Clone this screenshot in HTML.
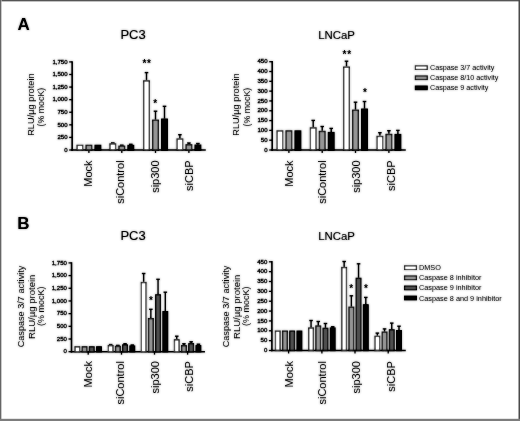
<!DOCTYPE html>
<html><head><meta charset="utf-8"><title>Figure</title>
<style>
html,body{margin:0;padding:0;background:#fff;}
body{width:520px;height:421px;overflow:hidden;}
svg{display:block;}
text{font-family:"Liberation Sans",Arial,Helvetica,sans-serif;}
.tk{stroke:#000;stroke-width:0.3px;}
.tt{stroke:#000;stroke-width:0.12px;}
</style></head><body>
<svg width="520" height="421" viewBox="0 0 520 421">
<defs><filter id="soft" x="0" y="0" width="520" height="421" filterUnits="userSpaceOnUse"><feGaussianBlur stdDeviation="0.8" result="b"/><feComposite in="SourceGraphic" in2="b" operator="arithmetic" k1="0" k2="0.8" k3="0.45" k4="0"/></filter></defs>
<rect x="0" y="0" width="520" height="421" fill="#fff"/>
<g filter="url(#soft)">
<text x="17.40" y="30.00" font-size="17" text-anchor="start" font-weight="bold" fill="#000">A</text>
<text x="133.10" y="38.80" font-size="13" text-anchor="middle" font-weight="normal" fill="#000" class="tt">PC3</text>
<text x="336.50" y="38.80" font-size="11.4" text-anchor="middle" font-weight="normal" fill="#000" class="tt">LNCaP</text>
<rect x="77.12" y="145.38" width="5.55" height="4.63" fill="#fff" stroke="#000" stroke-width="1.35"/>
<rect x="86.12" y="145.38" width="5.55" height="4.63" fill="#8a8a8a" stroke="#000" stroke-width="1.35"/>
<rect x="95.12" y="145.38" width="5.55" height="4.63" fill="#000" stroke="#000" stroke-width="1.35"/>
<line x1="112.80" y1="143.30" x2="112.80" y2="142.90" stroke="#000" stroke-width="1.4"/>
<line x1="111.00" y1="142.90" x2="114.60" y2="142.90" stroke="#000" stroke-width="1.4"/>
<rect x="110.02" y="143.98" width="5.55" height="6.02" fill="#fff" stroke="#000" stroke-width="1.35"/>
<line x1="121.80" y1="145.60" x2="121.80" y2="145.20" stroke="#000" stroke-width="1.4"/>
<line x1="120.00" y1="145.20" x2="123.60" y2="145.20" stroke="#000" stroke-width="1.4"/>
<rect x="119.02" y="146.28" width="5.55" height="3.73" fill="#8a8a8a" stroke="#000" stroke-width="1.35"/>
<line x1="130.80" y1="144.80" x2="130.80" y2="144.30" stroke="#000" stroke-width="1.4"/>
<line x1="129.00" y1="144.30" x2="132.60" y2="144.30" stroke="#000" stroke-width="1.4"/>
<rect x="128.03" y="145.48" width="5.55" height="4.52" fill="#000" stroke="#000" stroke-width="1.35"/>
<line x1="146.50" y1="80.30" x2="146.50" y2="72.60" stroke="#000" stroke-width="1.4"/>
<line x1="144.70" y1="72.60" x2="148.30" y2="72.60" stroke="#000" stroke-width="1.4"/>
<rect x="143.73" y="80.97" width="5.55" height="69.03" fill="#fff" stroke="#000" stroke-width="1.35"/>
<line x1="155.50" y1="119.60" x2="155.50" y2="111.20" stroke="#000" stroke-width="1.4"/>
<line x1="153.70" y1="111.20" x2="157.30" y2="111.20" stroke="#000" stroke-width="1.4"/>
<rect x="152.73" y="120.27" width="5.55" height="29.73" fill="#8a8a8a" stroke="#000" stroke-width="1.35"/>
<line x1="164.50" y1="118.50" x2="164.50" y2="106.30" stroke="#000" stroke-width="1.4"/>
<line x1="162.70" y1="106.30" x2="166.30" y2="106.30" stroke="#000" stroke-width="1.4"/>
<rect x="161.73" y="119.17" width="5.55" height="30.82" fill="#000" stroke="#000" stroke-width="1.35"/>
<line x1="179.90" y1="138.40" x2="179.90" y2="134.70" stroke="#000" stroke-width="1.4"/>
<line x1="178.10" y1="134.70" x2="181.70" y2="134.70" stroke="#000" stroke-width="1.4"/>
<rect x="177.13" y="139.08" width="5.55" height="10.92" fill="#fff" stroke="#000" stroke-width="1.35"/>
<line x1="188.90" y1="144.20" x2="188.90" y2="143.00" stroke="#000" stroke-width="1.4"/>
<line x1="187.10" y1="143.00" x2="190.70" y2="143.00" stroke="#000" stroke-width="1.4"/>
<rect x="186.13" y="144.88" width="5.55" height="5.13" fill="#8a8a8a" stroke="#000" stroke-width="1.35"/>
<line x1="197.90" y1="144.50" x2="197.90" y2="143.50" stroke="#000" stroke-width="1.4"/>
<line x1="196.10" y1="143.50" x2="199.70" y2="143.50" stroke="#000" stroke-width="1.4"/>
<rect x="195.13" y="145.18" width="5.55" height="4.83" fill="#000" stroke="#000" stroke-width="1.35"/>
<line x1="72.15" y1="61.20" x2="72.15" y2="150.80" stroke="#000" stroke-width="1.6"/>
<line x1="71.35" y1="150.00" x2="205.80" y2="150.00" stroke="#000" stroke-width="1.6"/>
<line x1="69.15" y1="150.00" x2="72.15" y2="150.00" stroke="#000" stroke-width="1.3"/>
<text x="67.55" y="151.70" font-size="6.05" text-anchor="end" font-weight="normal" fill="#000" class="tk">0</text>
<line x1="69.15" y1="137.41" x2="72.15" y2="137.41" stroke="#000" stroke-width="1.3"/>
<text x="67.55" y="139.11" font-size="6.05" text-anchor="end" font-weight="normal" fill="#000" class="tk">250</text>
<line x1="69.15" y1="124.83" x2="72.15" y2="124.83" stroke="#000" stroke-width="1.3"/>
<text x="67.55" y="126.53" font-size="6.05" text-anchor="end" font-weight="normal" fill="#000" class="tk">500</text>
<line x1="69.15" y1="112.24" x2="72.15" y2="112.24" stroke="#000" stroke-width="1.3"/>
<text x="67.55" y="113.94" font-size="6.05" text-anchor="end" font-weight="normal" fill="#000" class="tk">750</text>
<line x1="69.15" y1="99.66" x2="72.15" y2="99.66" stroke="#000" stroke-width="1.3"/>
<text x="67.55" y="101.36" font-size="6.05" text-anchor="end" font-weight="normal" fill="#000" class="tk">1,000</text>
<line x1="69.15" y1="87.07" x2="72.15" y2="87.07" stroke="#000" stroke-width="1.3"/>
<text x="67.55" y="88.77" font-size="6.05" text-anchor="end" font-weight="normal" fill="#000" class="tk">1,250</text>
<line x1="69.15" y1="74.49" x2="72.15" y2="74.49" stroke="#000" stroke-width="1.3"/>
<text x="67.55" y="76.19" font-size="6.05" text-anchor="end" font-weight="normal" fill="#000" class="tk">1,500</text>
<line x1="69.15" y1="61.90" x2="72.15" y2="61.90" stroke="#000" stroke-width="1.3"/>
<text x="67.55" y="63.60" font-size="6.05" text-anchor="end" font-weight="normal" fill="#000" class="tk">1,750</text>
<line x1="88.90" y1="150.00" x2="88.90" y2="153.00" stroke="#000" stroke-width="1.3"/>
<line x1="121.80" y1="150.00" x2="121.80" y2="153.00" stroke="#000" stroke-width="1.3"/>
<line x1="155.50" y1="150.00" x2="155.50" y2="153.00" stroke="#000" stroke-width="1.3"/>
<line x1="188.90" y1="150.00" x2="188.90" y2="153.00" stroke="#000" stroke-width="1.3"/>
<text x="91.80" y="160.40" font-size="11" text-anchor="end" font-weight="normal" fill="#000" transform="rotate(-90 91.80 160.40)">Mock</text>
<text x="124.40" y="160.40" font-size="11" text-anchor="end" font-weight="normal" fill="#000" transform="rotate(-90 124.40 160.40)">siControl</text>
<text x="159.30" y="160.40" font-size="11" text-anchor="end" font-weight="normal" fill="#000" transform="rotate(-90 159.30 160.40)">sip300</text>
<text x="193.00" y="160.40" font-size="11" text-anchor="end" font-weight="normal" fill="#000" transform="rotate(-90 193.00 160.40)">siCBP</text>
<rect x="277.12" y="130.98" width="5.55" height="19.02" fill="#fff" stroke="#000" stroke-width="1.35"/>
<rect x="286.12" y="130.98" width="5.55" height="19.02" fill="#8a8a8a" stroke="#000" stroke-width="1.35"/>
<rect x="295.12" y="130.98" width="5.55" height="19.02" fill="#000" stroke="#000" stroke-width="1.35"/>
<line x1="313.20" y1="127.30" x2="313.20" y2="120.40" stroke="#000" stroke-width="1.4"/>
<line x1="311.40" y1="120.40" x2="315.00" y2="120.40" stroke="#000" stroke-width="1.4"/>
<rect x="310.43" y="127.97" width="5.55" height="22.03" fill="#fff" stroke="#000" stroke-width="1.35"/>
<line x1="322.20" y1="130.80" x2="322.20" y2="126.50" stroke="#000" stroke-width="1.4"/>
<line x1="320.40" y1="126.50" x2="324.00" y2="126.50" stroke="#000" stroke-width="1.4"/>
<rect x="319.43" y="131.48" width="5.55" height="18.52" fill="#8a8a8a" stroke="#000" stroke-width="1.35"/>
<line x1="331.20" y1="131.90" x2="331.20" y2="128.40" stroke="#000" stroke-width="1.4"/>
<line x1="329.40" y1="128.40" x2="333.00" y2="128.40" stroke="#000" stroke-width="1.4"/>
<rect x="328.43" y="132.58" width="5.55" height="17.42" fill="#000" stroke="#000" stroke-width="1.35"/>
<line x1="346.50" y1="66.50" x2="346.50" y2="61.20" stroke="#000" stroke-width="1.4"/>
<line x1="344.70" y1="61.20" x2="348.30" y2="61.20" stroke="#000" stroke-width="1.4"/>
<rect x="343.73" y="67.17" width="5.55" height="82.83" fill="#fff" stroke="#000" stroke-width="1.35"/>
<line x1="355.50" y1="109.60" x2="355.50" y2="102.20" stroke="#000" stroke-width="1.4"/>
<line x1="353.70" y1="102.20" x2="357.30" y2="102.20" stroke="#000" stroke-width="1.4"/>
<rect x="352.73" y="110.27" width="5.55" height="39.73" fill="#8a8a8a" stroke="#000" stroke-width="1.35"/>
<line x1="364.50" y1="108.50" x2="364.50" y2="101.50" stroke="#000" stroke-width="1.4"/>
<line x1="362.70" y1="101.50" x2="366.30" y2="101.50" stroke="#000" stroke-width="1.4"/>
<rect x="361.73" y="109.17" width="5.55" height="40.83" fill="#000" stroke="#000" stroke-width="1.35"/>
<line x1="379.90" y1="135.80" x2="379.90" y2="132.70" stroke="#000" stroke-width="1.4"/>
<line x1="378.10" y1="132.70" x2="381.70" y2="132.70" stroke="#000" stroke-width="1.4"/>
<rect x="377.12" y="136.48" width="5.55" height="13.52" fill="#fff" stroke="#000" stroke-width="1.35"/>
<line x1="388.90" y1="133.80" x2="388.90" y2="130.70" stroke="#000" stroke-width="1.4"/>
<line x1="387.10" y1="130.70" x2="390.70" y2="130.70" stroke="#000" stroke-width="1.4"/>
<rect x="386.12" y="134.48" width="5.55" height="15.52" fill="#8a8a8a" stroke="#000" stroke-width="1.35"/>
<line x1="397.90" y1="133.90" x2="397.90" y2="130.40" stroke="#000" stroke-width="1.4"/>
<line x1="396.10" y1="130.40" x2="399.70" y2="130.40" stroke="#000" stroke-width="1.4"/>
<rect x="395.12" y="134.58" width="5.55" height="15.42" fill="#000" stroke="#000" stroke-width="1.35"/>
<line x1="272.20" y1="61.00" x2="272.20" y2="150.80" stroke="#000" stroke-width="1.6"/>
<line x1="271.40" y1="150.00" x2="405.80" y2="150.00" stroke="#000" stroke-width="1.6"/>
<line x1="269.20" y1="150.00" x2="272.20" y2="150.00" stroke="#000" stroke-width="1.3"/>
<text x="267.60" y="151.70" font-size="6.05" text-anchor="end" font-weight="normal" fill="#000" class="tk">0</text>
<line x1="269.20" y1="140.19" x2="272.20" y2="140.19" stroke="#000" stroke-width="1.3"/>
<text x="267.60" y="141.89" font-size="6.05" text-anchor="end" font-weight="normal" fill="#000" class="tk">50</text>
<line x1="269.20" y1="130.38" x2="272.20" y2="130.38" stroke="#000" stroke-width="1.3"/>
<text x="267.60" y="132.08" font-size="6.05" text-anchor="end" font-weight="normal" fill="#000" class="tk">100</text>
<line x1="269.20" y1="120.57" x2="272.20" y2="120.57" stroke="#000" stroke-width="1.3"/>
<text x="267.60" y="122.27" font-size="6.05" text-anchor="end" font-weight="normal" fill="#000" class="tk">150</text>
<line x1="269.20" y1="110.76" x2="272.20" y2="110.76" stroke="#000" stroke-width="1.3"/>
<text x="267.60" y="112.46" font-size="6.05" text-anchor="end" font-weight="normal" fill="#000" class="tk">200</text>
<line x1="269.20" y1="100.94" x2="272.20" y2="100.94" stroke="#000" stroke-width="1.3"/>
<text x="267.60" y="102.64" font-size="6.05" text-anchor="end" font-weight="normal" fill="#000" class="tk">250</text>
<line x1="269.20" y1="91.13" x2="272.20" y2="91.13" stroke="#000" stroke-width="1.3"/>
<text x="267.60" y="92.83" font-size="6.05" text-anchor="end" font-weight="normal" fill="#000" class="tk">300</text>
<line x1="269.20" y1="81.32" x2="272.20" y2="81.32" stroke="#000" stroke-width="1.3"/>
<text x="267.60" y="83.02" font-size="6.05" text-anchor="end" font-weight="normal" fill="#000" class="tk">350</text>
<line x1="269.20" y1="71.51" x2="272.20" y2="71.51" stroke="#000" stroke-width="1.3"/>
<text x="267.60" y="73.21" font-size="6.05" text-anchor="end" font-weight="normal" fill="#000" class="tk">400</text>
<line x1="269.20" y1="61.70" x2="272.20" y2="61.70" stroke="#000" stroke-width="1.3"/>
<text x="267.60" y="63.40" font-size="6.05" text-anchor="end" font-weight="normal" fill="#000" class="tk">450</text>
<line x1="288.90" y1="150.00" x2="288.90" y2="153.00" stroke="#000" stroke-width="1.3"/>
<line x1="322.20" y1="150.00" x2="322.20" y2="153.00" stroke="#000" stroke-width="1.3"/>
<line x1="355.50" y1="150.00" x2="355.50" y2="153.00" stroke="#000" stroke-width="1.3"/>
<line x1="388.90" y1="150.00" x2="388.90" y2="153.00" stroke="#000" stroke-width="1.3"/>
<text x="292.80" y="160.40" font-size="11" text-anchor="end" font-weight="normal" fill="#000" transform="rotate(-90 292.80 160.40)">Mock</text>
<text x="326.20" y="160.40" font-size="11" text-anchor="end" font-weight="normal" fill="#000" transform="rotate(-90 326.20 160.40)">siControl</text>
<text x="359.90" y="160.40" font-size="11" text-anchor="end" font-weight="normal" fill="#000" transform="rotate(-90 359.90 160.40)">sip300</text>
<text x="395.20" y="160.40" font-size="11" text-anchor="end" font-weight="normal" fill="#000" transform="rotate(-90 395.20 160.40)">siCBP</text>
<text x="144.35" y="67.15" font-size="10" text-anchor="middle" font-weight="bold" fill="#000">*</text>
<text x="149.05" y="67.15" font-size="10" text-anchor="middle" font-weight="bold" fill="#000">*</text>
<text x="155.20" y="107.15" font-size="10" text-anchor="middle" font-weight="bold" fill="#000">*</text>
<text x="344.45" y="58.35" font-size="10" text-anchor="middle" font-weight="bold" fill="#000">*</text>
<text x="349.15" y="58.35" font-size="10" text-anchor="middle" font-weight="bold" fill="#000">*</text>
<text x="365.00" y="95.95" font-size="10" text-anchor="middle" font-weight="bold" fill="#000">*</text>
<text x="33.70" y="104.60" font-size="9.25" text-anchor="middle" font-weight="normal" fill="#000" transform="rotate(-90 33.70 104.60)">RLU/µg protein</text>
<text x="44.00" y="107.10" font-size="8.8" text-anchor="middle" font-weight="normal" fill="#000" transform="rotate(-90 44.00 107.10)">(% mocK)</text>
<text x="239.50" y="104.60" font-size="9.25" text-anchor="middle" font-weight="normal" fill="#000" transform="rotate(-90 239.50 104.60)">RLU/µg protein</text>
<text x="250.00" y="107.10" font-size="8.8" text-anchor="middle" font-weight="normal" fill="#000" transform="rotate(-90 250.00 107.10)">(% mocK)</text>
<rect x="415.40" y="65.90" width="11.80" height="3.50" fill="#fff" stroke="#000" stroke-width="1.2"/>
<text x="430.00" y="70.20" font-size="7.2" text-anchor="start" font-weight="normal" fill="#000">Caspase 3/7 activity</text>
<rect x="415.40" y="76.00" width="11.80" height="3.50" fill="#8a8a8a" stroke="#000" stroke-width="1.2"/>
<text x="430.00" y="80.30" font-size="7.2" text-anchor="start" font-weight="normal" fill="#000">Caspase 8/10 activity</text>
<rect x="415.40" y="86.10" width="11.80" height="3.50" fill="#000" stroke="#000" stroke-width="1.2"/>
<text x="430.00" y="90.40" font-size="7.2" text-anchor="start" font-weight="normal" fill="#000">Caspase 9 activity</text>
<text x="17.30" y="229.20" font-size="17" text-anchor="start" font-weight="bold" fill="#000">B</text>
<text x="133.10" y="239.50" font-size="13" text-anchor="middle" font-weight="normal" fill="#000" class="tt">PC3</text>
<text x="336.50" y="239.90" font-size="11.4" text-anchor="middle" font-weight="normal" fill="#000" class="tt">LNCaP</text>
<rect x="75.08" y="346.88" width="4.55" height="4.83" fill="#fff" stroke="#000" stroke-width="1.35"/>
<rect x="82.27" y="346.88" width="4.55" height="4.83" fill="#8a8a8a" stroke="#000" stroke-width="1.35"/>
<rect x="89.47" y="346.88" width="4.55" height="4.83" fill="#4a4a4a" stroke="#000" stroke-width="1.35"/>
<rect x="96.72" y="346.88" width="4.55" height="4.83" fill="#000" stroke="#000" stroke-width="1.35"/>
<line x1="110.65" y1="345.00" x2="110.65" y2="344.60" stroke="#000" stroke-width="1.4"/>
<line x1="108.85" y1="344.60" x2="112.45" y2="344.60" stroke="#000" stroke-width="1.4"/>
<rect x="108.38" y="345.68" width="4.55" height="6.02" fill="#fff" stroke="#000" stroke-width="1.35"/>
<line x1="117.85" y1="345.80" x2="117.85" y2="345.40" stroke="#000" stroke-width="1.4"/>
<line x1="116.05" y1="345.40" x2="119.65" y2="345.40" stroke="#000" stroke-width="1.4"/>
<rect x="115.57" y="346.48" width="4.55" height="5.22" fill="#8a8a8a" stroke="#000" stroke-width="1.35"/>
<line x1="125.05" y1="344.30" x2="125.05" y2="343.80" stroke="#000" stroke-width="1.4"/>
<line x1="123.25" y1="343.80" x2="126.85" y2="343.80" stroke="#000" stroke-width="1.4"/>
<rect x="122.77" y="344.98" width="4.55" height="6.72" fill="#4a4a4a" stroke="#000" stroke-width="1.35"/>
<line x1="132.30" y1="345.40" x2="132.30" y2="345.00" stroke="#000" stroke-width="1.4"/>
<line x1="130.50" y1="345.00" x2="134.10" y2="345.00" stroke="#000" stroke-width="1.4"/>
<rect x="130.03" y="346.07" width="4.55" height="5.63" fill="#000" stroke="#000" stroke-width="1.35"/>
<line x1="143.65" y1="281.90" x2="143.65" y2="273.50" stroke="#000" stroke-width="1.4"/>
<line x1="141.85" y1="273.50" x2="145.45" y2="273.50" stroke="#000" stroke-width="1.4"/>
<rect x="141.38" y="282.57" width="4.55" height="69.13" fill="#fff" stroke="#000" stroke-width="1.35"/>
<line x1="150.85" y1="318.00" x2="150.85" y2="309.30" stroke="#000" stroke-width="1.4"/>
<line x1="149.05" y1="309.30" x2="152.65" y2="309.30" stroke="#000" stroke-width="1.4"/>
<rect x="148.58" y="318.68" width="4.55" height="33.02" fill="#8a8a8a" stroke="#000" stroke-width="1.35"/>
<line x1="158.05" y1="294.20" x2="158.05" y2="279.30" stroke="#000" stroke-width="1.4"/>
<line x1="156.25" y1="279.30" x2="159.85" y2="279.30" stroke="#000" stroke-width="1.4"/>
<rect x="155.78" y="294.88" width="4.55" height="56.83" fill="#4a4a4a" stroke="#000" stroke-width="1.35"/>
<line x1="165.30" y1="311.00" x2="165.30" y2="292.20" stroke="#000" stroke-width="1.4"/>
<line x1="163.50" y1="292.20" x2="167.10" y2="292.20" stroke="#000" stroke-width="1.4"/>
<rect x="163.03" y="311.68" width="4.55" height="40.02" fill="#000" stroke="#000" stroke-width="1.35"/>
<line x1="176.75" y1="339.20" x2="176.75" y2="336.20" stroke="#000" stroke-width="1.4"/>
<line x1="174.95" y1="336.20" x2="178.55" y2="336.20" stroke="#000" stroke-width="1.4"/>
<rect x="174.48" y="339.88" width="4.55" height="11.82" fill="#fff" stroke="#000" stroke-width="1.35"/>
<line x1="183.95" y1="345.10" x2="183.95" y2="343.80" stroke="#000" stroke-width="1.4"/>
<line x1="182.15" y1="343.80" x2="185.75" y2="343.80" stroke="#000" stroke-width="1.4"/>
<rect x="181.68" y="345.78" width="4.55" height="5.92" fill="#8a8a8a" stroke="#000" stroke-width="1.35"/>
<line x1="191.15" y1="343.10" x2="191.15" y2="341.80" stroke="#000" stroke-width="1.4"/>
<line x1="189.35" y1="341.80" x2="192.95" y2="341.80" stroke="#000" stroke-width="1.4"/>
<rect x="188.88" y="343.78" width="4.55" height="7.92" fill="#4a4a4a" stroke="#000" stroke-width="1.35"/>
<line x1="198.40" y1="345.10" x2="198.40" y2="344.20" stroke="#000" stroke-width="1.4"/>
<line x1="196.60" y1="344.20" x2="200.20" y2="344.20" stroke="#000" stroke-width="1.4"/>
<rect x="196.13" y="345.78" width="4.55" height="5.92" fill="#000" stroke="#000" stroke-width="1.35"/>
<line x1="71.50" y1="262.20" x2="71.50" y2="352.50" stroke="#000" stroke-width="1.6"/>
<line x1="70.70" y1="351.70" x2="205.00" y2="351.70" stroke="#000" stroke-width="1.6"/>
<line x1="68.50" y1="351.70" x2="71.50" y2="351.70" stroke="#000" stroke-width="1.3"/>
<text x="66.90" y="353.40" font-size="6.05" text-anchor="end" font-weight="normal" fill="#000" class="tk">0</text>
<line x1="68.50" y1="339.01" x2="71.50" y2="339.01" stroke="#000" stroke-width="1.3"/>
<text x="66.90" y="340.71" font-size="6.05" text-anchor="end" font-weight="normal" fill="#000" class="tk">250</text>
<line x1="68.50" y1="326.33" x2="71.50" y2="326.33" stroke="#000" stroke-width="1.3"/>
<text x="66.90" y="328.03" font-size="6.05" text-anchor="end" font-weight="normal" fill="#000" class="tk">500</text>
<line x1="68.50" y1="313.64" x2="71.50" y2="313.64" stroke="#000" stroke-width="1.3"/>
<text x="66.90" y="315.34" font-size="6.05" text-anchor="end" font-weight="normal" fill="#000" class="tk">750</text>
<line x1="68.50" y1="300.96" x2="71.50" y2="300.96" stroke="#000" stroke-width="1.3"/>
<text x="66.90" y="302.66" font-size="6.05" text-anchor="end" font-weight="normal" fill="#000" class="tk">1,000</text>
<line x1="68.50" y1="288.27" x2="71.50" y2="288.27" stroke="#000" stroke-width="1.3"/>
<text x="66.90" y="289.97" font-size="6.05" text-anchor="end" font-weight="normal" fill="#000" class="tk">1,250</text>
<line x1="68.50" y1="275.59" x2="71.50" y2="275.59" stroke="#000" stroke-width="1.3"/>
<text x="66.90" y="277.29" font-size="6.05" text-anchor="end" font-weight="normal" fill="#000" class="tk">1,500</text>
<line x1="68.50" y1="262.90" x2="71.50" y2="262.90" stroke="#000" stroke-width="1.3"/>
<text x="66.90" y="264.60" font-size="6.05" text-anchor="end" font-weight="normal" fill="#000" class="tk">1,750</text>
<line x1="88.20" y1="351.70" x2="88.20" y2="354.70" stroke="#000" stroke-width="1.3"/>
<line x1="121.50" y1="351.70" x2="121.50" y2="354.70" stroke="#000" stroke-width="1.3"/>
<line x1="154.50" y1="351.70" x2="154.50" y2="354.70" stroke="#000" stroke-width="1.3"/>
<line x1="187.60" y1="351.70" x2="187.60" y2="354.70" stroke="#000" stroke-width="1.3"/>
<text x="91.80" y="361.10" font-size="11" text-anchor="end" font-weight="normal" fill="#000" transform="rotate(-90 91.80 361.10)">Mock</text>
<text x="124.40" y="361.10" font-size="11" text-anchor="end" font-weight="normal" fill="#000" transform="rotate(-90 124.40 361.10)">siControl</text>
<text x="159.30" y="361.10" font-size="11" text-anchor="end" font-weight="normal" fill="#000" transform="rotate(-90 159.30 361.10)">sip300</text>
<text x="193.00" y="361.10" font-size="11" text-anchor="end" font-weight="normal" fill="#000" transform="rotate(-90 193.00 361.10)">siCBP</text>
<rect x="275.48" y="331.18" width="4.55" height="19.32" fill="#fff" stroke="#000" stroke-width="1.35"/>
<rect x="282.68" y="331.18" width="4.55" height="19.32" fill="#8a8a8a" stroke="#000" stroke-width="1.35"/>
<rect x="289.88" y="331.18" width="4.55" height="19.32" fill="#4a4a4a" stroke="#000" stroke-width="1.35"/>
<rect x="297.13" y="331.18" width="4.55" height="19.32" fill="#000" stroke="#000" stroke-width="1.35"/>
<line x1="311.05" y1="327.40" x2="311.05" y2="320.50" stroke="#000" stroke-width="1.4"/>
<line x1="309.25" y1="320.50" x2="312.85" y2="320.50" stroke="#000" stroke-width="1.4"/>
<rect x="308.77" y="328.07" width="4.55" height="22.43" fill="#fff" stroke="#000" stroke-width="1.35"/>
<line x1="318.25" y1="325.40" x2="318.25" y2="321.50" stroke="#000" stroke-width="1.4"/>
<line x1="316.45" y1="321.50" x2="320.05" y2="321.50" stroke="#000" stroke-width="1.4"/>
<rect x="315.98" y="326.07" width="4.55" height="24.43" fill="#8a8a8a" stroke="#000" stroke-width="1.35"/>
<line x1="325.45" y1="327.70" x2="325.45" y2="323.50" stroke="#000" stroke-width="1.4"/>
<line x1="323.65" y1="323.50" x2="327.25" y2="323.50" stroke="#000" stroke-width="1.4"/>
<rect x="323.18" y="328.38" width="4.55" height="22.13" fill="#4a4a4a" stroke="#000" stroke-width="1.35"/>
<line x1="332.70" y1="327.40" x2="332.70" y2="326.80" stroke="#000" stroke-width="1.4"/>
<line x1="330.90" y1="326.80" x2="334.50" y2="326.80" stroke="#000" stroke-width="1.4"/>
<rect x="330.43" y="328.07" width="4.55" height="22.43" fill="#000" stroke="#000" stroke-width="1.35"/>
<line x1="344.15" y1="266.90" x2="344.15" y2="261.50" stroke="#000" stroke-width="1.4"/>
<line x1="342.35" y1="261.50" x2="345.95" y2="261.50" stroke="#000" stroke-width="1.4"/>
<rect x="341.88" y="267.57" width="4.55" height="82.93" fill="#fff" stroke="#000" stroke-width="1.35"/>
<line x1="351.35" y1="306.60" x2="351.35" y2="295.80" stroke="#000" stroke-width="1.4"/>
<line x1="349.55" y1="295.80" x2="353.15" y2="295.80" stroke="#000" stroke-width="1.4"/>
<rect x="349.08" y="307.28" width="4.55" height="43.22" fill="#8a8a8a" stroke="#000" stroke-width="1.35"/>
<line x1="358.55" y1="277.70" x2="358.55" y2="263.80" stroke="#000" stroke-width="1.4"/>
<line x1="356.75" y1="263.80" x2="360.35" y2="263.80" stroke="#000" stroke-width="1.4"/>
<rect x="356.28" y="278.38" width="4.55" height="72.13" fill="#4a4a4a" stroke="#000" stroke-width="1.35"/>
<line x1="365.80" y1="304.20" x2="365.80" y2="297.40" stroke="#000" stroke-width="1.4"/>
<line x1="364.00" y1="297.40" x2="367.60" y2="297.40" stroke="#000" stroke-width="1.4"/>
<rect x="363.53" y="304.88" width="4.55" height="45.63" fill="#000" stroke="#000" stroke-width="1.35"/>
<line x1="377.35" y1="335.70" x2="377.35" y2="333.10" stroke="#000" stroke-width="1.4"/>
<line x1="375.55" y1="333.10" x2="379.15" y2="333.10" stroke="#000" stroke-width="1.4"/>
<rect x="375.07" y="336.38" width="4.55" height="14.13" fill="#fff" stroke="#000" stroke-width="1.35"/>
<line x1="384.55" y1="331.50" x2="384.55" y2="328.90" stroke="#000" stroke-width="1.4"/>
<line x1="382.75" y1="328.90" x2="386.35" y2="328.90" stroke="#000" stroke-width="1.4"/>
<rect x="382.28" y="332.18" width="4.55" height="18.32" fill="#8a8a8a" stroke="#000" stroke-width="1.35"/>
<line x1="391.75" y1="329.20" x2="391.75" y2="323.10" stroke="#000" stroke-width="1.4"/>
<line x1="389.95" y1="323.10" x2="393.55" y2="323.10" stroke="#000" stroke-width="1.4"/>
<rect x="389.48" y="329.88" width="4.55" height="20.63" fill="#4a4a4a" stroke="#000" stroke-width="1.35"/>
<line x1="399.00" y1="330.00" x2="399.00" y2="326.20" stroke="#000" stroke-width="1.4"/>
<line x1="397.20" y1="326.20" x2="400.80" y2="326.20" stroke="#000" stroke-width="1.4"/>
<rect x="396.73" y="330.68" width="4.55" height="19.82" fill="#000" stroke="#000" stroke-width="1.35"/>
<line x1="271.90" y1="261.10" x2="271.90" y2="351.30" stroke="#000" stroke-width="1.6"/>
<line x1="271.10" y1="350.50" x2="405.80" y2="350.50" stroke="#000" stroke-width="1.6"/>
<line x1="268.90" y1="350.50" x2="271.90" y2="350.50" stroke="#000" stroke-width="1.3"/>
<text x="267.30" y="352.20" font-size="6.05" text-anchor="end" font-weight="normal" fill="#000" class="tk">0</text>
<line x1="268.90" y1="340.64" x2="271.90" y2="340.64" stroke="#000" stroke-width="1.3"/>
<text x="267.30" y="342.34" font-size="6.05" text-anchor="end" font-weight="normal" fill="#000" class="tk">50</text>
<line x1="268.90" y1="330.79" x2="271.90" y2="330.79" stroke="#000" stroke-width="1.3"/>
<text x="267.30" y="332.49" font-size="6.05" text-anchor="end" font-weight="normal" fill="#000" class="tk">100</text>
<line x1="268.90" y1="320.93" x2="271.90" y2="320.93" stroke="#000" stroke-width="1.3"/>
<text x="267.30" y="322.63" font-size="6.05" text-anchor="end" font-weight="normal" fill="#000" class="tk">150</text>
<line x1="268.90" y1="311.08" x2="271.90" y2="311.08" stroke="#000" stroke-width="1.3"/>
<text x="267.30" y="312.78" font-size="6.05" text-anchor="end" font-weight="normal" fill="#000" class="tk">200</text>
<line x1="268.90" y1="301.22" x2="271.90" y2="301.22" stroke="#000" stroke-width="1.3"/>
<text x="267.30" y="302.92" font-size="6.05" text-anchor="end" font-weight="normal" fill="#000" class="tk">250</text>
<line x1="268.90" y1="291.37" x2="271.90" y2="291.37" stroke="#000" stroke-width="1.3"/>
<text x="267.30" y="293.07" font-size="6.05" text-anchor="end" font-weight="normal" fill="#000" class="tk">300</text>
<line x1="268.90" y1="281.51" x2="271.90" y2="281.51" stroke="#000" stroke-width="1.3"/>
<text x="267.30" y="283.21" font-size="6.05" text-anchor="end" font-weight="normal" fill="#000" class="tk">350</text>
<line x1="268.90" y1="271.66" x2="271.90" y2="271.66" stroke="#000" stroke-width="1.3"/>
<text x="267.30" y="273.36" font-size="6.05" text-anchor="end" font-weight="normal" fill="#000" class="tk">400</text>
<line x1="268.90" y1="261.80" x2="271.90" y2="261.80" stroke="#000" stroke-width="1.3"/>
<text x="267.30" y="263.50" font-size="6.05" text-anchor="end" font-weight="normal" fill="#000" class="tk">450</text>
<line x1="288.60" y1="350.50" x2="288.60" y2="353.50" stroke="#000" stroke-width="1.3"/>
<line x1="321.90" y1="350.50" x2="321.90" y2="353.50" stroke="#000" stroke-width="1.3"/>
<line x1="355.00" y1="350.50" x2="355.00" y2="353.50" stroke="#000" stroke-width="1.3"/>
<line x1="388.20" y1="350.50" x2="388.20" y2="353.50" stroke="#000" stroke-width="1.3"/>
<text x="292.80" y="361.10" font-size="11" text-anchor="end" font-weight="normal" fill="#000" transform="rotate(-90 292.80 361.10)">Mock</text>
<text x="326.20" y="361.10" font-size="11" text-anchor="end" font-weight="normal" fill="#000" transform="rotate(-90 326.20 361.10)">siControl</text>
<text x="359.90" y="361.10" font-size="11" text-anchor="end" font-weight="normal" fill="#000" transform="rotate(-90 359.90 361.10)">sip300</text>
<text x="395.20" y="361.10" font-size="11" text-anchor="end" font-weight="normal" fill="#000" transform="rotate(-90 395.20 361.10)">siCBP</text>
<text x="151.00" y="304.45" font-size="10" text-anchor="middle" font-weight="bold" fill="#000">*</text>
<text x="351.20" y="291.75" font-size="10" text-anchor="middle" font-weight="bold" fill="#000">*</text>
<text x="365.90" y="291.75" font-size="10" text-anchor="middle" font-weight="bold" fill="#000">*</text>
<text x="23.60" y="306.50" font-size="9.14" text-anchor="middle" font-weight="normal" fill="#000" transform="rotate(-90 23.60 306.50)">Caspase 3/7 activity</text>
<text x="34.80" y="306.80" font-size="9.55" text-anchor="middle" font-weight="normal" fill="#000" transform="rotate(-90 34.80 306.80)">RLU/µg protein</text>
<text x="44.10" y="306.30" font-size="9.0" text-anchor="middle" font-weight="normal" fill="#000" transform="rotate(-90 44.10 306.30)">(% mocK)</text>
<text x="228.90" y="306.50" font-size="9.14" text-anchor="middle" font-weight="normal" fill="#000" transform="rotate(-90 228.90 306.50)">Caspase 3/7 activity</text>
<text x="240.10" y="306.80" font-size="9.55" text-anchor="middle" font-weight="normal" fill="#000" transform="rotate(-90 240.10 306.80)">RLU/µg protein</text>
<text x="249.40" y="306.30" font-size="9.0" text-anchor="middle" font-weight="normal" fill="#000" transform="rotate(-90 249.40 306.30)">(% mocK)</text>
<rect x="404.60" y="265.90" width="11.80" height="3.60" fill="#fff" stroke="#000" stroke-width="1.2"/>
<text x="419.00" y="270.20" font-size="7.3" text-anchor="start" font-weight="normal" fill="#000">DMSO</text>
<rect x="404.60" y="276.00" width="11.80" height="3.60" fill="#8a8a8a" stroke="#000" stroke-width="1.2"/>
<text x="419.00" y="280.30" font-size="7.3" text-anchor="start" font-weight="normal" fill="#000">Caspase 8 inhibitor</text>
<rect x="404.60" y="286.10" width="11.80" height="3.60" fill="#4a4a4a" stroke="#000" stroke-width="1.2"/>
<text x="419.00" y="290.40" font-size="7.3" text-anchor="start" font-weight="normal" fill="#000">Caspase 9 inhibitor</text>
<rect x="404.60" y="296.20" width="11.80" height="3.60" fill="#000" stroke="#000" stroke-width="1.2"/>
<text x="419.00" y="300.50" font-size="7.3" text-anchor="start" font-weight="normal" fill="#000">Caspase 8 and 9 inhibitor</text>
</g>
<rect x="0" y="0" width="520" height="1.2" fill="#555"/>
<rect x="0" y="1.2" width="520" height="0.8" fill="#bbb"/>
<rect x="0" y="0" width="1.2" height="421" fill="#666"/>
<rect x="1.2" y="0" width="0.6" height="421" fill="#bbb"/>
<rect x="518.5" y="0" width="1.5" height="421" fill="#4a4a4a"/>
<rect x="0" y="418.8" width="520" height="2.2" fill="#7d7d7d"/>
</svg>
</body></html>
